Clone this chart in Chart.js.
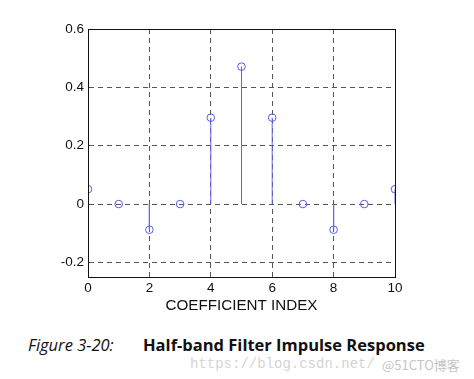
<!DOCTYPE html>
<html>
<head>
<meta charset="utf-8">
<script src="https://cdn.jsdelivr.net/npm/chart.js@4"></script>
<style>
  html, body { margin: 0; padding: 0; background: #fff; }
  body { width: 474px; height: 379px; position: relative; overflow: hidden; }
  #wrap { position: absolute; left: 0; top: 0; width: 474px; height: 318px; }
  .cap { position: absolute; white-space: nowrap; line-height: 20px; color: #111; font-family: "Open Sans", sans-serif; font-size: 16.5px; }
  #fig { left: 28px; top: 335px; font-style: italic; }
  #ttl { left: 143px; top: 335px; font-weight: bold; }
  #wm1 { position: absolute; left: 190px; top: 356px; font-family: "Liberation Mono", monospace; font-size: 14px; color: #d4d4d4; white-space: nowrap; }
  #wm2 { position: absolute; left: 382px; top: 355px; font-family: "Noto Sans CJK SC", sans-serif; font-size: 13px; color: #c4c4c4; white-space: nowrap; }
</style>
</head>
<body>
<div id="wrap"><canvas id="c"></canvas></div>
<div class="cap" id="fig">Figure 3-20:</div>
<div class="cap" id="ttl">Half-band Filter Impulse Response</div>
<div id="wm1">https://blog.csdn.net/</div>
<div id="wm2">@51CTO博客</div>
<script>
// Data
const coefIndex = [0, 1, 2, 3, 4, 5, 6, 7, 8, 9, 10];
const coefValues = [0.051, 0, -0.088, 0, 0.296, 0.471, 0.296, 0, -0.088, 0, 0.051];
const xTicks = [0, 2, 4, 6, 8, 10];
const yTicks = [-0.2, 0, 0.2, 0.4, 0.6];
const yTickLabels = ['-0.2', '0', '0.2', '0.4', '0.6'];
const xTitle = 'COEFFICIENT INDEX';

const points = coefIndex.map((x, i) => ({ x: x, y: coefValues[i] }));
const stems = [];
coefIndex.forEach((x, i) => {
  stems.push({ x: x, y: 0 }, { x: x, y: coefValues[i] }, { x: x, y: null });
});

const blue = '#5a5af0';

const boxPlugin = {
  id: 'box',
  afterDraw(chart) {
    const a = chart.chartArea, ctx = chart.ctx;
    ctx.save();
    ctx.strokeStyle = '#111';
    ctx.lineWidth = 1;
    ctx.strokeRect(Math.round(a.left) + 0.5, Math.round(a.top) + 0.5, Math.round(a.right - a.left), Math.round(a.bottom - a.top));
    ctx.restore();
  }
};

new Chart(document.getElementById('c'), {
  type: 'scatter',
  data: {
    datasets: [
      {
        type: 'line',
        data: stems,
        borderColor: '#6464f4',
        borderWidth: 1,
        pointRadius: 0,
        spanGaps: false,
        fill: false
      },
      {
        data: points,
        showLine: false,
        pointStyle: 'circle',
        pointRadius: 3.8,
        pointBorderWidth: 1,
        pointBorderColor: blue,
        pointBackgroundColor: 'rgba(0,0,0,0)'
      }
    ]
  },
  plugins: [boxPlugin],
  options: {
    responsive: true,
    maintainAspectRatio: false,
    animation: false,
    layout: { padding: { left: 0, top: 29, right: 79, bottom: 0 } },
    plugins: { legend: { display: false }, tooltip: { enabled: false } },
    scales: {
      x: {
        type: 'linear',
        min: 0,
        max: 10,
        afterBuildTicks(scale) { scale.ticks = xTicks.map(v => ({ value: v })); },
        afterFit(scale) { scale.height = 41; },
        ticks: { color: '#111', padding: 3, font: { family: 'Liberation Sans', size: 13.5 } },
        grid: { color: '#555', lineWidth: 1, drawTicks: false },
        border: { display: true, color: '#111', dash: [5, 4] },
        title: { display: true, text: xTitle, color: '#111', padding: { top: 0, bottom: 3 }, font: { family: 'Liberation Sans', size: 15.2, lineHeight: 1.2 } }
      },
      y: {
        type: 'linear',
        min: -0.25,
        max: 0.6,
        afterBuildTicks(scale) { scale.ticks = yTicks.map(v => ({ value: v })); },
        afterFit(scale) { scale.width = 88; },
        ticks: {
          color: '#111', padding: 4, font: { family: 'Liberation Sans', size: 13.5 },
          callback(value) { const i = yTicks.findIndex(t => Math.abs(t - value) < 1e-9); return i >= 0 ? yTickLabels[i] : ''; }
        },
        grid: { color: '#555', lineWidth: 1, drawTicks: false },
        border: { display: true, color: '#111', dash: [5, 4] }
      }
    }
  }
});
</script>
</body>
</html>
